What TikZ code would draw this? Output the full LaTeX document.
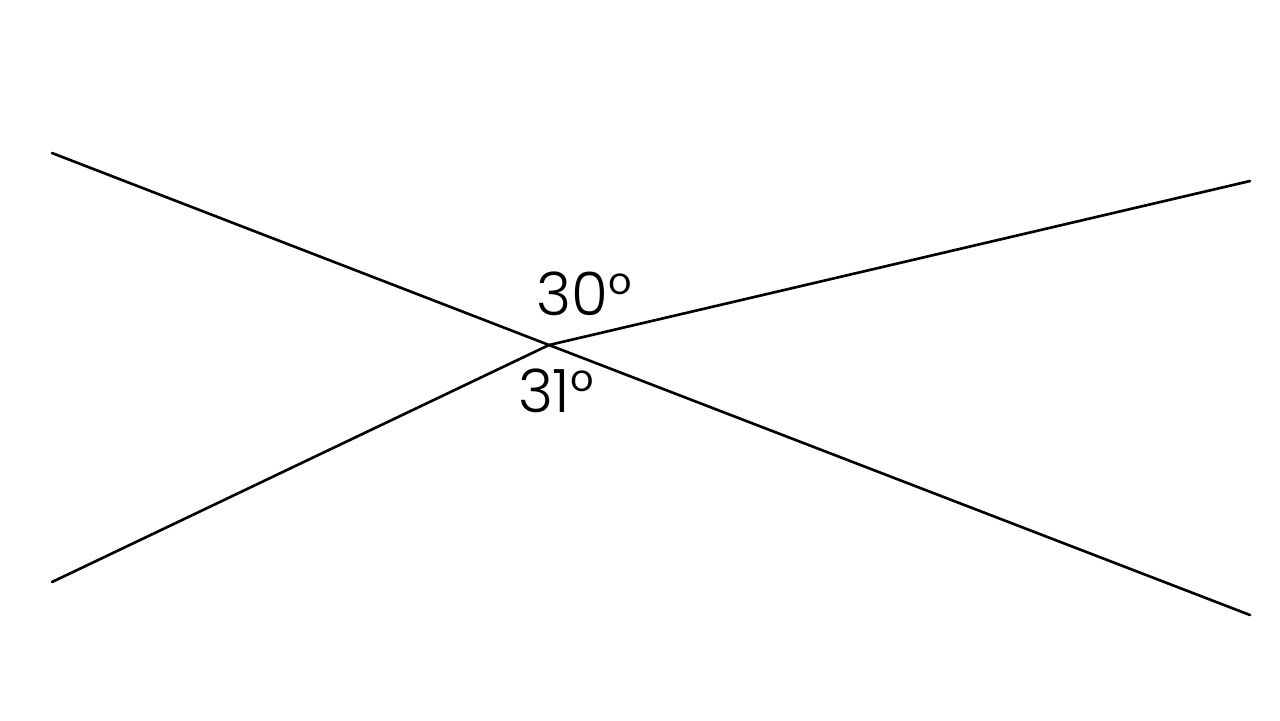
\documentclass[tikz,border=0pt]{standalone}
\usepackage{fontspec}
\IfFontExistsTF{Poppins Light}{\setmainfont{Poppins Light}}{\setmainfont{Poppins}}
\usetikzlibrary{calc}

\begin{document}
\begin{tikzpicture}[x=0.01cm,y=-0.01cm]
\useasboundingbox (0,0) rectangle (1280,720);
\tikzset{ray/.style={line width=0.75pt,line cap=round},
	deg/.style={font=\fontsize{17}{20}\selectfont,inner sep=0pt}}
%points
\coordinate (o) at (549,345);
\coordinate (a1) at (52,153);
\coordinate (a2) at (1250,615);
\coordinate (b1) at (52,582);
\coordinate (b2) at (1250,181);
%lines
\draw[ray] (a1) -- (o) -- (a2);
\draw[ray] (b1) -- (o) -- (b2);
%angles
\path (584,294) node[deg] (t30) {30°};
\path (556,391) node[deg] (t31) {31°};
\end{tikzpicture}
\end{document}
